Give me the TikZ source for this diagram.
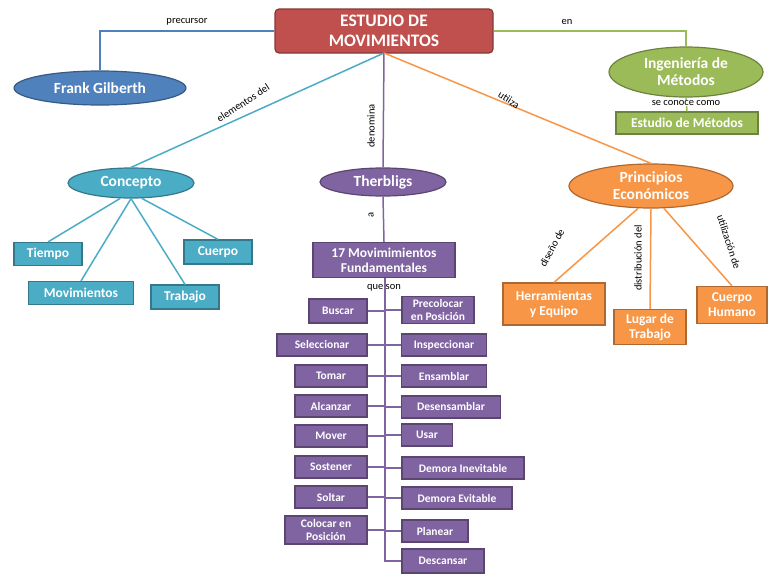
\documentclass[tikz,border=0pt]{standalone}
\usepackage{fontspec}
\usetikzlibrary{shapes.geometric}
\setmainfont{Carlito}
\definecolor{cred}{HTML}{C0504D}\definecolor{cblue}{HTML}{4F81BD}
\definecolor{cgreen}{HTML}{9BBB59}\definecolor{cteal}{HTML}{4BACC6}
\definecolor{cpur}{HTML}{8064A2}\definecolor{corg}{HTML}{F79646}
\begin{document}
\begin{tikzpicture}[x=1pt,y=-1pt,
 ell/.style={ellipse,draw=#1!70!black,fill=#1,line width=1.2pt,text=white,font=\fontsize{15.5}{17}\selectfont\bfseries,inner sep=0pt,align=center},
 box/.style={rectangle,draw=#1!70!black,fill=#1,line width=1.2pt,text=white,font=\fontsize{13.5}{15}\selectfont\bfseries,inner sep=2pt,align=center},
 lst/.style={box=cpur,font=\fontsize{11.5}{13}\selectfont\bfseries,minimum height=22pt,inner sep=1pt},
 lbl/.style={font=\fontsize{10.5}{11}\selectfont,text=black,inner sep=1pt},
 ln/.style={line width=1.5pt,draw=#1}]
\useasboundingbox (0,0) rectangle (768,576);
\coordinate (rs) at (384,53);
\coordinate (sp) at (385,561);
\node[box=cred,minimum width=218pt,minimum height=44pt,rounded corners=4pt,font=\fontsize{17.5}{20}\selectfont\bfseries] (root) at (384,31) {ESTUDIO DE\\MOVIMIENTOS};
\node[ell=cblue,minimum width=172pt,minimum height=34pt] (fg) at (100,88) {Frank Gilberth};
\node[ell=cgreen,minimum width=154pt,minimum height=50pt] (im) at (686,72) {Ingeniería de\\Métodos};
\node[box=cgreen,minimum width=142pt,minimum height=22pt] (em) at (687,123) {Estudio de Métodos};
\node[ell=cteal,minimum width=126pt,minimum height=30pt] (con) at (131,183) {Concepto};
\node[ell=cpur,minimum width=126pt,minimum height=28pt] (th) at (383,182) {Therbligs};
\node[ell=corg,minimum width=164pt,minimum height=44pt] (pe) at (651,186) {Principios\\Económicos};
\node[box=cteal,minimum width=68pt,minimum height=23pt] (ti) at (48,254) {Tiempo};
\node[box=cteal,minimum width=105pt,minimum height=23pt] (mo) at (81,293) {Movimientos};
\node[box=cteal,minimum width=68pt,minimum height=24pt] (tr) at (185,297) {Trabajo};
\node[box=cteal,minimum width=68pt,minimum height=24pt] (cu) at (218,252) {Cuerpo};
\node[box=cpur,minimum width=142pt,minimum height=35pt] (sm) at (384,260) {17 Movimimientos\\Fundamentales};
\node[box=corg,minimum width=102pt,minimum height=42pt] (he) at (554,304) {Herramientas\\y Equipo};
\node[box=corg,minimum width=72pt,minimum height=35pt] (lu) at (650,327) {Lugar de\\Trabajo};
\node[box=corg,minimum width=70pt,minimum height=37pt] (ch) at (732,305) {Cuerpo\\Humano};
% list
\node[lst,minimum width=58pt,minimum height=24pt] (l1) at (338,311) {Buscar};
\node[lst,minimum width=90pt] (l2) at (322,345) {Seleccionar};
\node[lst,minimum width=72pt] (l3) at (331,376) {Tomar};
\node[lst,minimum width=72pt] (l4) at (331,406) {Alcanzar};
\node[lst,minimum width=72pt] (l5) at (331,436) {Mover};
\node[lst,minimum width=72pt] (l6) at (331,467) {Sostener};
\node[lst,minimum width=72pt] (l7) at (331,497) {Soltar};
\node[lst,minimum width=82pt,minimum height=28pt] (l8) at (326,530) {Colocar en\\Posición};
\node[lst,minimum width=72pt,minimum height=27pt] (r1) at (438,310) {Precolocar\\en Posición};
\node[lst,minimum width=85pt] (r2) at (444,345) {Inspeccionar};
\node[lst,minimum width=85pt] (r3) at (444,376) {Ensamblar};
\node[lst,minimum width=99pt] (r4) at (451,407) {Desensamblar};
\node[lst,minimum width=51pt] (r5) at (427,435) {Usar};
\node[lst,minimum width=122pt] (r6) at (463,468) {Demora Inevitable};
\node[lst,minimum width=110pt] (r7) at (457,498) {Demora Evitable};
\node[lst,minimum width=66pt] (r8) at (435,531) {Planear};
\node[lst,minimum width=82pt,minimum height=24pt] (r9) at (443,561) {Descansar};
% connectors
\draw[ln=cblue] (root.west) -| (fg.north);
\draw[ln=cgreen] (root.east) -| (im.north);
\draw[ln=cgreen] (im.south) -- (em.north);
\draw[ln=cteal] (rs) -- (con.north);
\draw[ln=cpur] (rs) -- (th.north);
\draw[ln=corg] (rs) -- (pe.north);
\draw[ln=cteal] (con.235) -- (ti.north);
\draw[ln=cteal] (con.south) -- (mo.north);
\draw[ln=cteal] (con.south) -- (tr.north);
\draw[ln=cteal] (con.305) -- (cu.north);
\draw[ln=cpur] (th.south) -- (sm.north);
\draw[ln=cpur] (sm.south-|sp) -- (sp) -- (r9.west);
\foreach \n in {l1,l2,l3,l4,l5,l6,l7,l8} \draw[ln=cpur] (\n.east) -- (\n.east-|sp);
\foreach \n in {r1,r2,r3,r4,r5,r6,r7,r8} \draw[ln=cpur] (\n.west-|sp) -- (\n.west);
\draw[ln=corg] (pe.240) -- (he.north);
\draw[ln=corg] (pe.south) -- (lu.north);
\draw[ln=corg] (pe.300) -- (ch.north);
% labels
\node[lbl] (t1) at (187,22) {precursor};
\node[lbl] (t2) at (567,22) {en};
\node[lbl,fill=white,inner sep=0pt] (t3) at (686,103) {se conoce como};
\node[lbl,rotate=33] (t4) at (243,103) {elementos del};
\node[lbl,rotate=90] (t5) at (371,126) {denomina};
\node[lbl,rotate=-33] (t6) at (509,100) {utiiza};
\node[lbl,rotate=90] (t7) at (371,215) {a};
\node[lbl] (t8) at (384,288) {que son};
\node[lbl,rotate=62] (t9) at (552,248) {diseño de};
\node[lbl,rotate=90] (t10) at (638,258) {distribución del};
\node[lbl,rotate=-72] (t11) at (729,242) {utilización de};
\end{tikzpicture}
\end{document}
